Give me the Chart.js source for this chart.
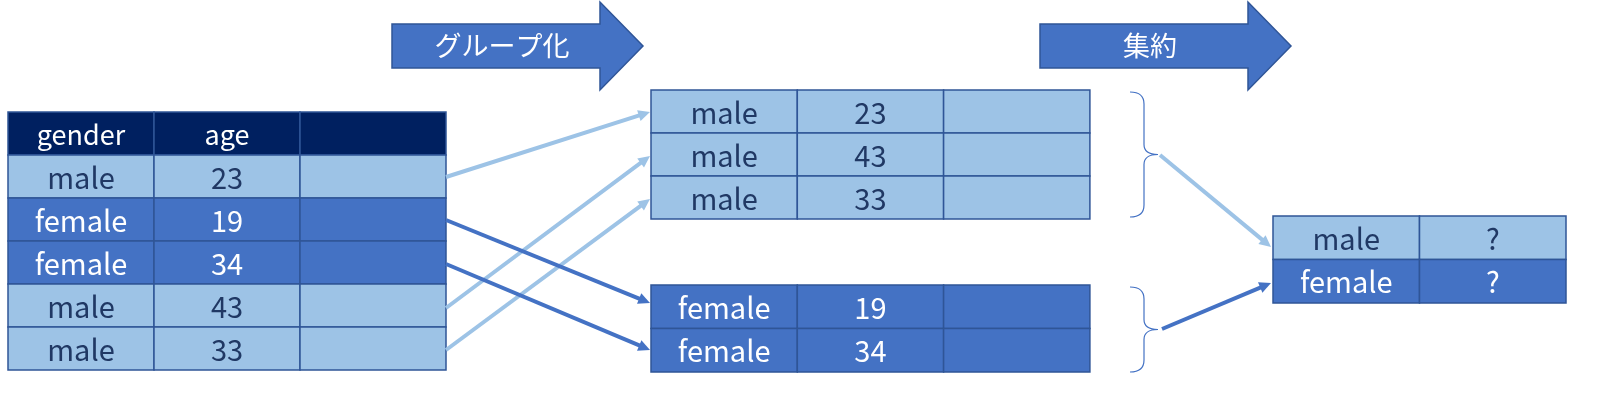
<!DOCTYPE html>
<html><head><meta charset="utf-8">
<script src="https://cdn.jsdelivr.net/npm/chart.js@4"></script>
<style>html,body{margin:0;padding:0;background:#fff;overflow:hidden}#wrap{position:absolute;left:0;top:0;width:1606px;height:404px}</style>
</head><body>
<div id="wrap"><canvas id="c"></canvas></div>
<script>
const headers = ["gender", "age", ""];
const genders = ["male", "female", "female", "male", "male"];
const ages = ["23", "19", "34", "43", "33"];
const maleAges = ["23", "43", "33"];
const femaleAges = ["19", "34"];
const resultGenders = ["male", "female"];
const resultValues = ["?", "?"];
const stepLabels = ["グループ化", "集約"];

const LIGHT = "#9DC3E6", DARK = "#4472C4", NAVY = "#002060", BORDER = "#2F5597";
const FONT = '"Noto Sans CJK JP", "Noto Sans", sans-serif';

const diagram = {
  id: 'diagram',
  afterDraw(chart) {
    const ctx = chart.ctx, xs = chart.scales.x, ys = chart.scales.y;
    const X = v => xs.getPixelForValue(v), Y = v => ys.getPixelForValue(v);
    ctx.save();
    ctx.textAlign = 'center'; ctx.textBaseline = 'middle';
    function table(x0, y0, colW, rowH, rows) {
      rows.forEach((r, i) => {
        r.cells.forEach((t, j) => {
          const x = X(x0 + j * colW), y = Y(y0 + i * rowH);
          const w = X(x0 + (j + 1) * colW) - x, h = Y(y0 + (i + 1) * rowH) - y;
          ctx.fillStyle = r.bg; ctx.fillRect(x, y, w, h);
          ctx.strokeStyle = BORDER; ctx.lineWidth = 1.5; ctx.strokeRect(x, y, w, h);
          ctx.fillStyle = r.fg; ctx.font = (r.size || 29) + 'px ' + FONT;
          ctx.fillText(t, x + w / 2, y + h / 2 + 1);
        });
      });
    }
    const rowOf = (g, a) => ({cells: [g, a, ""], bg: g === "male" ? LIGHT : DARK, fg: g === "male" ? "#203864" : "#fff"});
    table(8, 112, 146, 43, [{cells: headers, bg: NAVY, fg: "#fff", size: 27}].concat(genders.map((g, i) => rowOf(g, ages[i]))));
    table(651, 90, 146.3, 43, maleAges.map(a => rowOf("male", a)));
    table(651, 285, 146.3, 43.5, femaleAges.map(a => rowOf("female", a)));
    table(1273, 216, 146.5, 43.5, resultGenders.map((g, i) => ({cells: [g, resultValues[i]], bg: g === "male" ? LIGHT : DARK, fg: g === "male" ? "#203864" : "#fff"})));

    function block(x0, label) {
      ctx.beginPath();
      ctx.moveTo(X(x0), Y(24)); ctx.lineTo(X(x0 + 208), Y(24)); ctx.lineTo(X(x0 + 208), Y(2));
      ctx.lineTo(X(x0 + 251), Y(46)); ctx.lineTo(X(x0 + 208), Y(90)); ctx.lineTo(X(x0 + 208), Y(68));
      ctx.lineTo(X(x0), Y(68)); ctx.closePath();
      ctx.fillStyle = DARK; ctx.fill(); ctx.strokeStyle = BORDER; ctx.lineWidth = 1.5; ctx.stroke();
      ctx.fillStyle = "#fff"; ctx.font = '27px ' + FONT;
      ctx.fillText(label, X(x0 + 110), Y(46));
    }
    block(392, stepLabels[0]); block(1040, stepLabels[1]);

    function arrow(x1, y1, x2, y2, col) {
      x1 = X(x1); y1 = Y(y1); x2 = X(x2); y2 = Y(y2);
      const a = Math.atan2(y2 - y1, x2 - x1), L = 13;
      ctx.strokeStyle = col; ctx.fillStyle = col; ctx.lineWidth = 4;
      ctx.beginPath(); ctx.moveTo(x1, y1); ctx.lineTo(x2 - L * 0.8 * Math.cos(a), y2 - L * 0.8 * Math.sin(a)); ctx.stroke();
      ctx.beginPath(); ctx.moveTo(x2, y2);
      ctx.lineTo(x2 - L * Math.cos(a - 0.45), y2 - L * Math.sin(a - 0.45));
      ctx.lineTo(x2 - L * Math.cos(a + 0.45), y2 - L * Math.sin(a + 0.45));
      ctx.closePath(); ctx.fill();
    }
    arrow(446, 177, 650, 112, LIGHT);
    arrow(446, 308, 650, 156, LIGHT);
    arrow(446, 350, 650, 199, LIGHT);
    arrow(446, 220, 650, 303, DARK);
    arrow(446, 264, 650, 350, DARK);
    arrow(1160, 155, 1271, 247, LIGHT);
    arrow(1162, 329, 1271, 283, DARK);

    function brace(x, yt, yb) {
      const ym = (yt + yb) / 2;
      ctx.strokeStyle = DARK; ctx.lineWidth = 1.2;
      ctx.beginPath();
      ctx.moveTo(X(x - 14), Y(yt));
      ctx.quadraticCurveTo(X(x), Y(yt), X(x), Y(yt + 12));
      ctx.lineTo(X(x), Y(ym - 10));
      ctx.quadraticCurveTo(X(x), Y(ym), X(x + 14), Y(ym));
      ctx.quadraticCurveTo(X(x), Y(ym), X(x), Y(ym + 10));
      ctx.lineTo(X(x), Y(yb - 12));
      ctx.quadraticCurveTo(X(x), Y(yb), X(x - 14), Y(yb));
      ctx.stroke();
    }
    brace(1144, 92, 217);
    brace(1144, 287, 372);
    ctx.restore();
  }
};

new Chart(document.getElementById('c'), {
  type: 'scatter',
  data: {datasets: [{data: [], pointRadius: 0}]},
  options: {
    responsive: true, maintainAspectRatio: false, animation: false,
    layout: {padding: 0},
    plugins: {legend: {display: false}, tooltip: {enabled: false}},
    scales: {
      x: {type: 'linear', min: 0, max: 1606, display: false},
      y: {type: 'linear', min: 0, max: 404, reverse: true, display: false}
    }
  },
  plugins: [diagram]
});
</script>
</body></html>
